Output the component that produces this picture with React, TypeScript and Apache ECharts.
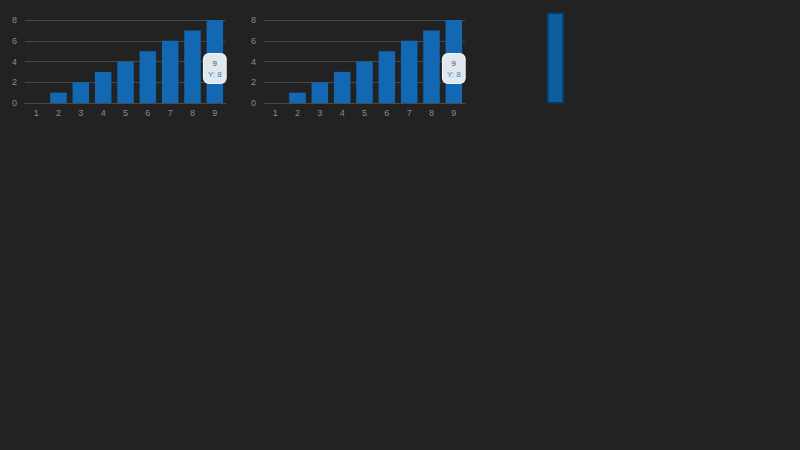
import React, { useEffect, useRef } from "react";
import * as echarts from "echarts";

const categories = ["1", "2", "3", "4", "5", "6", "7", "8", "9"];
const valuesLeft = [0, 1, 2, 3, 4, 5, 6, 7, 8];
const valuesRight = [0, 1, 2, 3, 4, 5, 6, 7, 8];
const singleBar = [1];
const highlightIndex = 8;

const BAR = "#1268b3";

const App = () => {
  const chartRef = useRef<HTMLDivElement | null>(null);

  useEffect(() => {
    document.body.style.margin = "0";
    if (!chartRef.current) return;
    const chart = echarts.init(chartRef.current, null, { renderer: "svg" });

    // hover-style label pinned on the last bar
    const tipLabel = {
      show: true,
      position: "inside",
      offset: [0, 7],
      formatter: (p: any) => `{a|${p.name}}\n{b|Y: ${p.value}}`,
      backgroundColor: "#dfe7ef",
      borderColor: "#f2f5f8",
      borderWidth: 1,
      borderRadius: 5,
      padding: [4, 4, 3, 4],
      rich: {
        a: { color: "#4a4f55", fontSize: 8, lineHeight: 11, align: "center", fontFamily: "Liberation Sans" },
        b: { color: "#3d7fbf", fontSize: 8, lineHeight: 11, align: "center", fontFamily: "Liberation Sans" },
      },
    };

    const makeData = (vals: number[]) =>
      vals.map((v, i) => (i === highlightIndex ? { value: v, label: tipLabel } : v));

    const xAxisBase = {
      type: "category",
      data: categories,
      axisTick: { show: false },
      axisLine: { lineStyle: { color: "#4a4a4a" } },
      axisLabel: { color: "#8a8a8a", fontSize: 9, margin: 5, fontFamily: "Liberation Sans" },
    };
    const yAxisBase = {
      type: "value",
      min: 0,
      max: 8,
      interval: 2,
      axisLine: { show: false },
      axisTick: { show: false },
      axisLabel: { color: "#8a8a8a", fontSize: 9, margin: 8, fontFamily: "Liberation Sans" },
      splitLine: { lineStyle: { color: "#474747" } },
    };

    chart.setOption({
      animation: false,
      backgroundColor: "#222222",
      grid: [
        { left: 25, top: 20, width: 201, height: 83 },
        { left: 264, top: 20, width: 201, height: 83 },
        { left: 546, top: 12, width: 19, height: 92 },
      ],
      xAxis: [
        { ...xAxisBase, gridIndex: 0 },
        { ...xAxisBase, gridIndex: 1 },
        { type: "category", gridIndex: 2, data: ["a"], show: false },
      ],
      yAxis: [
        { ...yAxisBase, gridIndex: 0 },
        { ...yAxisBase, gridIndex: 1 },
        { type: "value", gridIndex: 2, min: 0, max: 1, show: false },
      ],
      series: [
        {
          type: "bar",
          xAxisIndex: 0,
          yAxisIndex: 0,
          data: makeData(valuesLeft),
          barCategoryGap: "26%",
          itemStyle: { color: BAR },
        },
        {
          type: "bar",
          xAxisIndex: 1,
          yAxisIndex: 1,
          data: makeData(valuesRight),
          barCategoryGap: "26%",
          itemStyle: { color: BAR },
        },
        {
          type: "bar",
          xAxisIndex: 2,
          yAxisIndex: 2,
          data: singleBar,
          barWidth: 18,
          clip: false,
          itemStyle: { color: "#0b5d9c", borderColor: "#0c3658", borderWidth: 2, borderRadius: 1 },
        },
      ],
    });

    return () => {
      chart.dispose();
    };
  }, []);

  return <div ref={chartRef} style={{ width: "800px", height: "450px" }}></div>;
};

export default App;
